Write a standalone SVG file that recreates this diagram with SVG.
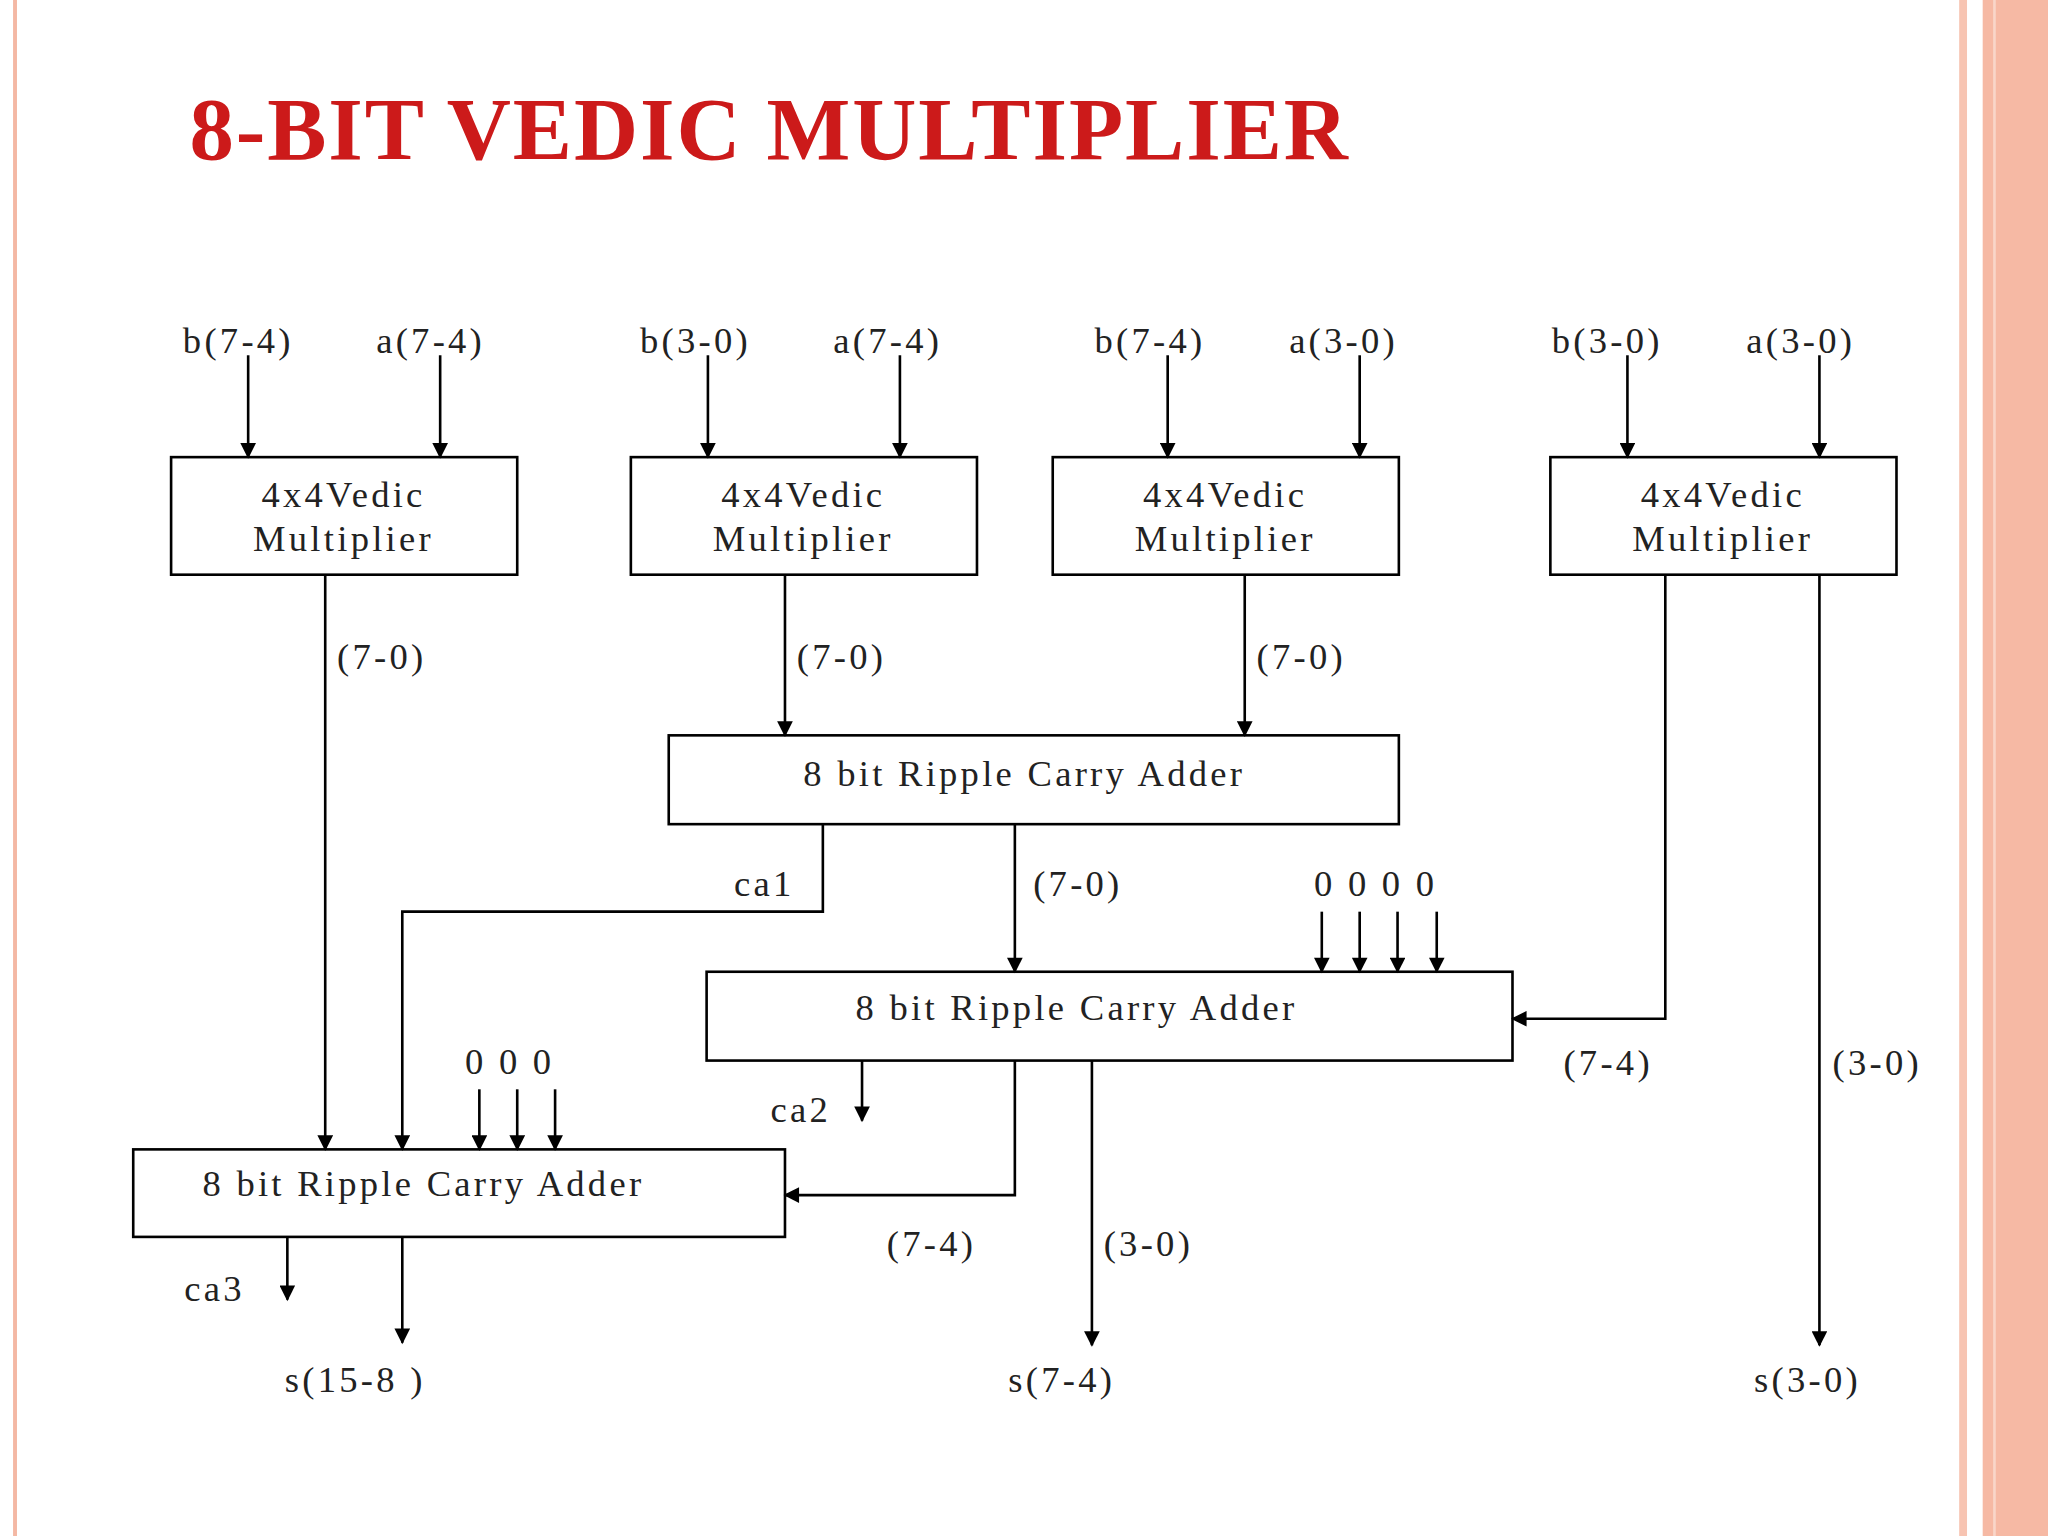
<svg xmlns="http://www.w3.org/2000/svg" width="2048" height="1536" viewBox="0 0 2048 1536">
<defs>
<marker id="ah" viewBox="0 0 10 10" refX="9" refY="5" markerWidth="16" markerHeight="12" markerUnits="userSpaceOnUse" orient="auto"><path d="M0,0 L10,5 L0,10 z" fill="#000"/></marker>
<style>
.t{font-family:"Liberation Serif",serif;font-size:28px;fill:#222;letter-spacing:2.5px}
.b{fill:#fff;stroke:#000;stroke-width:2}
.a{fill:none;stroke:#000;stroke-width:2;marker-end:url(#ah)}
</style>
</defs>
<rect width="2048" height="1536" fill="#fff"/>
<g transform="scale(1.30612)">
<g id="frame">
<rect x="10" y="0" width="3" height="1176" fill="#f4b8a4"/>
<rect x="1500" y="0" width="6" height="1176" fill="#f7c4b2"/>
<rect x="1518" y="0" width="50" height="1176" fill="#f6b9a4"/>
<rect x="1526" y="0" width="2" height="1176" fill="#f9d6c9"/>
</g>
<text id="title" x="145" y="122" font-family="Liberation Serif,serif" font-weight="bold" font-size="68" fill="#cc1a1a" textLength="887">8-BIT VEDIC MULTIPLIER</text>
<g id="inputs">
<text class="t" x="140" y="270">b(7-4)</text><text class="t" x="288" y="270">a(7-4)</text>
<text class="t" x="490" y="270">b(3-0)</text><text class="t" x="638" y="270">a(7-4)</text>
<text class="t" x="838" y="270">b(7-4)</text><text class="t" x="987" y="270">a(3-0)</text>
<text class="t" x="1188" y="270">b(3-0)</text><text class="t" x="1337" y="270">a(3-0)</text>
</g>
<g id="m1"><rect class="b" x="131" y="350" width="265" height="90"/><text class="t" x="263" y="388" text-anchor="middle">4x4Vedic</text><text class="t" x="263" y="422" text-anchor="middle">Multiplier</text></g>
<g id="m2"><rect class="b" x="483" y="350" width="265" height="90"/><text class="t" x="615" y="388" text-anchor="middle">4x4Vedic</text><text class="t" x="615" y="422" text-anchor="middle">Multiplier</text></g>
<g id="m3"><rect class="b" x="806" y="350" width="265" height="90"/><text class="t" x="938" y="388" text-anchor="middle">4x4Vedic</text><text class="t" x="938" y="422" text-anchor="middle">Multiplier</text></g>
<g id="m4"><rect class="b" x="1187" y="350" width="265" height="90"/><text class="t" x="1319" y="388" text-anchor="middle">4x4Vedic</text><text class="t" x="1319" y="422" text-anchor="middle">Multiplier</text></g>
<g id="rca1"><rect class="b" x="512" y="563" width="559" height="68"/><text class="t" x="615" y="602">8 bit Ripple Carry Adder</text></g>
<g id="rca2"><rect class="b" x="541" y="744" width="617" height="68"/><text class="t" x="655" y="781">8 bit Ripple Carry Adder</text></g>
<g id="rca3"><rect class="b" x="102" y="880" width="499" height="67"/><text class="t" x="155" y="916">8 bit Ripple Carry Adder</text></g>
<g id="connectors">
<path class="a" d="M190,272V350"/><path class="a" d="M337,272V350"/>
<path class="a" d="M542,272V350"/><path class="a" d="M689,272V350"/>
<path class="a" d="M894,272V350"/><path class="a" d="M1041,272V350"/>
<path class="a" d="M1246,272V350"/><path class="a" d="M1393,272V350"/>
<path class="a" d="M249,440V880"/>
<path class="a" d="M601,440V563"/>
<path class="a" d="M953,440V563"/>
<path class="a" d="M630,631V698H308V880"/>
<path class="a" d="M777,631V744"/>
<path class="a" d="M1012,698V744"/><path class="a" d="M1041,698V744"/><path class="a" d="M1070,698V744"/><path class="a" d="M1100,698V744"/>
<path class="a" d="M1275,440V780H1158"/>
<path class="a" d="M1393,440V1030"/>
<path class="a" d="M660,812V858"/>
<path class="a" d="M777,812V915H601"/>
<path class="a" d="M836,812V1030"/>
<path class="a" d="M367,834V880"/><path class="a" d="M396,834V880"/><path class="a" d="M425,834V880"/>
<path class="a" d="M220,947V995"/>
<path class="a" d="M308,947V1028"/>
</g>
<g id="labels">
<text class="t" x="258" y="512">(7-0)</text>
<text class="t" x="610" y="512">(7-0)</text>
<text class="t" x="962" y="512">(7-0)</text>
<text class="t" x="562" y="686">ca1</text>
<text class="t" x="791" y="686">(7-0)</text>
<text class="t" x="1006" y="686">0 0 0 0</text>
<text class="t" x="1197" y="823">(7-4)</text>
<text class="t" x="1403" y="823">(3-0)</text>
<text class="t" x="356" y="822">0 0 0</text>
<text class="t" x="590" y="859">ca2</text>
<text class="t" x="679" y="962">(7-4)</text>
<text class="t" x="845" y="962">(3-0)</text>
<text class="t" x="141" y="996">ca3</text>
<text class="t" x="218" y="1066">s(15-8 )</text>
<text class="t" x="772" y="1066">s(7-4)</text>
<text class="t" x="1343" y="1066">s(3-0)</text>
</g>
</g>
</svg>
